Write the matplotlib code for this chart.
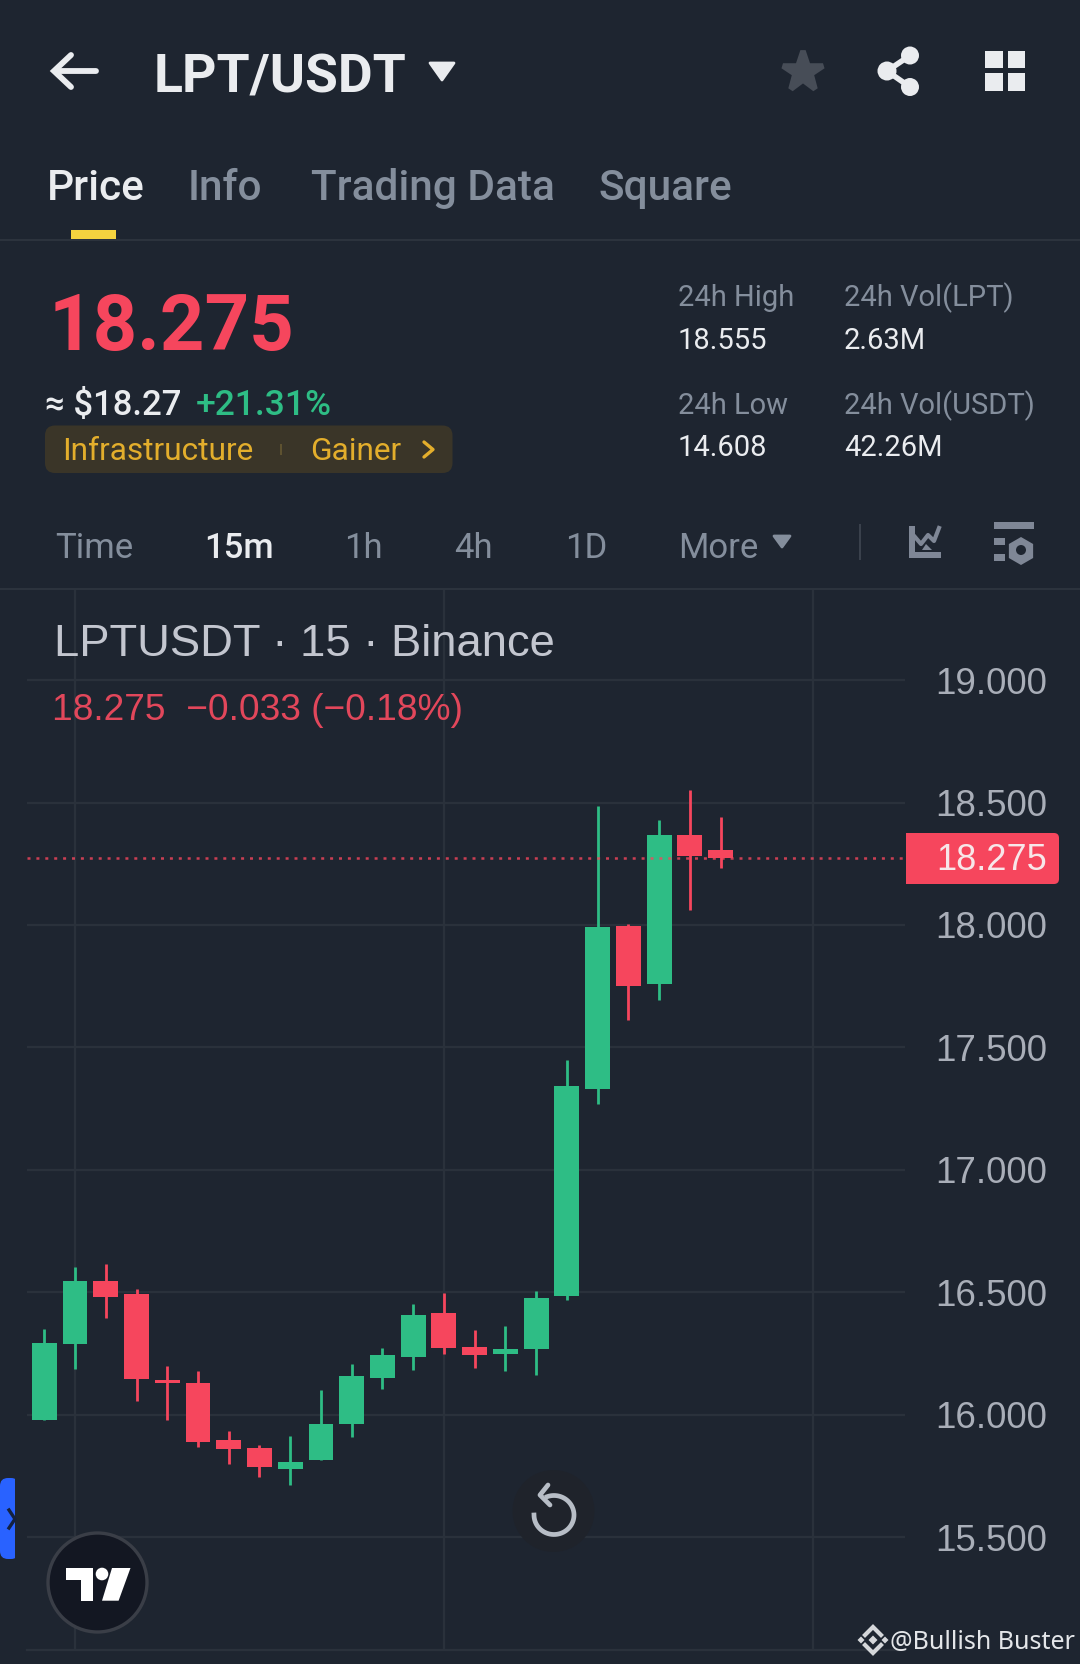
import matplotlib
matplotlib.use("Agg")
import matplotlib.pyplot as plt
import numpy as np
from matplotlib.patches import Circle, FancyBboxPatch, Polygon, Rectangle, RegularPolygon

# candle values
opens = [15.979, 16.289, 16.546, 16.493, 16.143, 16.130, 15.897, 15.864, 15.779, 15.815, 15.962, 16.150,
         16.236, 16.416, 16.277, 16.248, 16.269, 16.485, 17.330, 17.997, 17.759, 18.367, 18.306]
highs = [16.350, 16.602, 16.616, 16.512, 16.199, 16.178, 15.934, 15.877, 15.913, 16.101, 16.207, 16.273,
         16.452, 16.497, 16.346, 16.363, 16.506, 17.449, 18.486, 18.003, 18.429, 18.551, 18.441]
lows = [15.979, 16.187, 16.395, 16.056, 15.979, 15.870, 15.800, 15.745, 15.713, 15.815, 15.909, 16.105,
        16.183, 16.248, 16.191, 16.179, 16.163, 16.469, 17.269, 17.612, 17.694, 18.061, 18.233]
closes = [16.293, 16.546, 16.481, 16.146, 16.130, 15.889, 15.860, 15.787, 15.807, 15.962, 16.158, 16.244,
          16.408, 16.273, 16.244, 16.269, 16.477, 17.343, 17.992, 17.751, 18.367, 18.282, 18.275]

price_ticks = [15.5, 16.0, 16.5, 17.0, 17.5, 18.0, 18.5, 19.0]
price_labels = ["15.500", "16.000", "16.500", "17.000", "17.500", "18.000", "18.500", "19.000"]
time_ticks = [1, 13, 25]
last_price = 18.275

tabs = ["Price", "Info", "Trading Data", "Square"]
timeframes = ["Time", "15m", "1h", "4h", "1D", "More"]

BG = "#1e2530"
LINE = "#2c333d"
GRID = "#2a313b"
RED = "#f6465d"
GREEN = "#2ebd85"
WHITE = "#eaecef"
GREY = "#848e9c"
ICON = "#7f8796"
GOLD = "#e3ae2c"
AXIS_TEXT = "#a9aeb8"
CHART_FONT = "Liberation Sans"

plt.rcParams["font.family"] = ["Roboto", "DejaVu Sans"]

fig = plt.figure(figsize=(10.8, 16.64), dpi=100, facecolor=BG)


def y_frac(py):
    return 1 - py / 1664


# chart axes: left/right end where the grid lines end, price scale matches the grid spacing
left, right, top, bottom = 27, 905, 590, 1650
ax = fig.add_axes([left / 1080, y_frac(bottom), (right - left) / 1080, (bottom - top) / 1664], facecolor=BG)
ax.set_xlim((left - 44.3) / 30.74, (right - 44.3) / 30.74)
ax.set_ylim(18 + (925 - bottom) / 244.9, 18 + (925 - top) / 244.9)

for spine in ["top", "left", "right"]:
    ax.spines[spine].set_visible(False)
ax.spines["bottom"].set_color(GRID)
ax.spines["bottom"].set_linewidth(1.6)

ax.set_axisbelow(True)
ax.grid(True, color=GRID, linewidth=1.6)
ax.set_xticks(time_ticks)
ax.set_xticklabels([])
ax.set_yticks(price_ticks)
ax.set_yticklabels(price_labels, family=CHART_FONT)
ax.yaxis.tick_right()
ax.tick_params(axis="both", length=0)
ax.tick_params(axis="y", pad=22, labelsize=26.5, labelcolor=AXIS_TEXT)

for i in range(len(opens)):
    color = GREEN if closes[i] >= opens[i] else RED
    ax.vlines(i, lows[i], highs[i], color=color, linewidth=2.0, zorder=3)
    ax.bar(i, abs(closes[i] - opens[i]), bottom=min(opens[i], closes[i]), width=0.81, color=color, zorder=3)

ax.axhline(last_price, color=RED, linewidth=1.8, linestyle=(0, (1.2, 2.36)), alpha=0.8, zorder=4)

# everything else is the app around the chart, drawn in screen pixels
ui = fig.add_axes([0, 0, 1, 1], facecolor="none")
ui.set_xlim(0, 1080)
ui.set_ylim(1664, 0)
ui.axis("off")


def txt(x, y, s, size, color=WHITE, weight="normal", **kw):
    ui.text(x, y, s, fontsize=size, color=color, fontweight=weight, va="baseline", **kw)


def box(x0, y0, x1, y1, color, rad=0):
    if rad:
        ui.add_patch(FancyBboxPatch((x0 + rad, y0 + rad), x1 - x0 - 2 * rad, y1 - y0 - 2 * rad,
                                    boxstyle=f"round,pad={rad},rounding_size={rad}", fc=color, ec="none"))
    else:
        ui.add_patch(Rectangle((x0, y0), x1 - x0, y1 - y0, fc=color, ec="none"))


def tri(x0, x1, y0, y1, color):
    ui.add_patch(Polygon([(x0, y0), (x1, y0), ((x0 + x1) / 2, y1)], closed=True, fc=color, ec=color,
                         lw=2, joinstyle="round"))


# header
ui.plot([96, 56], [71, 71], color=WHITE, lw=4.2, solid_capstyle="round")
ui.plot([71, 54, 71], [55, 71, 87], color=WHITE, lw=4.2, solid_capstyle="round", solid_joinstyle="miter")
txt(154, 92, "LPT/USDT", 38.5, WHITE, "bold")
tri(430, 454, 63, 80, WHITE)
ui.plot([803], [72], marker="*", markersize=30, color="#474d57", markeredgecolor="#474d57",
        markeredgewidth=4, markerfacecolor="#474d57")
ui.plot([910, 887, 910], [55.5, 71, 87], color=WHITE, lw=4)
for cx, cy, r in [(910, 55.5, 9), (887, 71, 9.5), (910, 87, 9)]:
    ui.add_patch(Circle((cx, cy), r, fc=WHITE, ec="none"))
for x0, y0 in [(985, 50.5), (1007.5, 50.5), (985, 73), (1007.5, 73)]:
    box(x0, y0, x0 + 17.5, y0 + 17.5, WHITE)

# tabs
tab_x = [47, 188, 311, 599]
for i in range(len(tabs)):
    txt(tab_x[i], 200, tabs[i], 30.5, WHITE if i == 0 else GREY, "medium")
box(71, 230, 116, 239, "#f5d33f")
box(0, 239, 1080, 241, LINE)

# price block
txt(49, 350, "18.275", 56, RED, "bold")
txt(45, 415, "≈ $18.27", 25, WHITE, "medium", family=["Roboto", "DejaVu Sans"])
txt(196, 415, "+21.31%", 25.5, GREEN, "medium")
box(45, 425.5, 452.5, 473, "#3a3528", 10)
txt(62, 460, "Infrastructure", 22.8, GOLD)
box(280, 444, 281.5, 455, "#5e5230")
txt(310, 460, "Gainer", 22.8, GOLD)
ui.plot([424, 433, 424], [442, 449.5, 457], color=GOLD, lw=2.4, solid_capstyle="round")

# 24h stats
txt(678, 306, "24h High", 21, GREY)
txt(678, 349, "18.555", 21, WHITE)
txt(844, 306, "24h Vol(LPT)", 21, GREY)
txt(844, 349, "2.63M", 21, WHITE)
txt(678, 414, "24h Low", 21, GREY)
txt(678, 456.5, "14.608", 21, WHITE)
txt(844, 414, "24h Vol(USDT)", 21, GREY)
txt(844, 456.5, "42.26M", 21, WHITE)

# timeframe row
frame_x = [55, 204, 344, 454, 565, 678]
for i in range(len(timeframes)):
    selected = timeframes[i] == "15m"
    txt(frame_x[i], 557.5, timeframes[i], 25, WHITE if selected else GREY, "medium" if selected else "normal")
tri(774, 790, 536, 547, GREY)
box(859, 524, 861, 560, "#3a414c")
box(909, 526, 915, 558, ICON)
box(909, 552, 941, 558, ICON)
ui.plot([915, 921, 928, 934, 939], [537, 544, 535, 541, 528], color=ICON, lw=3)
ui.add_patch(Polygon([(922, 550), (926, 544), (932, 550)], closed=True, fc=ICON, ec="none"))
box(994, 522, 1034, 529, ICON)
box(994, 538, 1005, 545, ICON)
box(994, 554, 1005, 561, ICON)
ui.add_patch(RegularPolygon((1021, 551), 6, radius=14, fc=ICON, ec="none"))
ui.add_patch(Circle((1021, 550), 5, fc=BG, ec="none"))
box(0, 587.5, 1080, 589.5, LINE)

# chart legend and last price tag
txt(54, 656, "LPTUSDT · 15 · Binance", 32.7, "#c3c6cf", family=CHART_FONT)
txt(52, 720.5, "18.275  −0.033 (−0.18%)", 26.7, "#e2475b", family=CHART_FONT)
box(906, 833, 1059, 884, RED, 5)
box(906, 833, 920, 884, RED)
txt(936, 870.5, "18.275", 26, "#f7e6e9", family=CHART_FONT)

# overlay buttons
ui.add_patch(Circle((553.5, 1511), 41, fc="#1f232b", ec="none"))
angles = np.radians(np.linspace(250, 540, 60))
ui.plot(554 + 20 * np.cos(angles), 1515 + 19.5 * np.sin(angles), color="#b7bdc6", lw=3.4)
ui.plot([548, 540, 550], [1485, 1495, 1505], color="#b7bdc6", lw=3.4, solid_joinstyle="round", solid_capstyle="round")

ui.add_patch(FancyBboxPatch((4, 1482), 11, 73, boxstyle="round,pad=4,rounding_size=8", fc="#2962ff", ec="none"))
box(15, 1475, 22, 1562, BG)
ui.plot([9, 15, 9], [1510, 1519, 1528], color="#14213f", lw=2.4)

ui.add_patch(Circle((97.5, 1582.5), 49.5, fc="#131722", ec="#3a3e47", lw=2.4))
ui.add_patch(Polygon([(65.6, 1568), (92.5, 1568), (92.5, 1600.7), (80.7, 1600.7), (80.7, 1580), (65.6, 1580)],
                     closed=True, fc="white", ec="none"))
ui.add_patch(Circle((102, 1574), 6.3, fc="white", ec="none"))
ui.add_patch(Polygon([(112, 1568), (130.5, 1568), (118.6, 1600.7), (102, 1600.7)], closed=True, fc="white", ec="none"))

# watermark
logo = "#d5d7da"
ui.plot([865, 873, 881], [1635, 1627, 1635], color=logo, lw=3, solid_joinstyle="miter")
ui.plot([865, 873, 881], [1645, 1653, 1645], color=logo, lw=3, solid_joinstyle="miter")
for cx, cy, s in [(861, 1640, 3.5), (885, 1640, 3.5), (873, 1640, 4.5)]:
    ui.add_patch(RegularPolygon((cx, cy), 4, radius=s, fc=logo, ec="none"))
txt(890, 1649, "@Bullish Buster", 18, "#e4e6e9", "normal", family="Noto Sans")

fig.savefig("out.png", dpi=100, facecolor=BG)
